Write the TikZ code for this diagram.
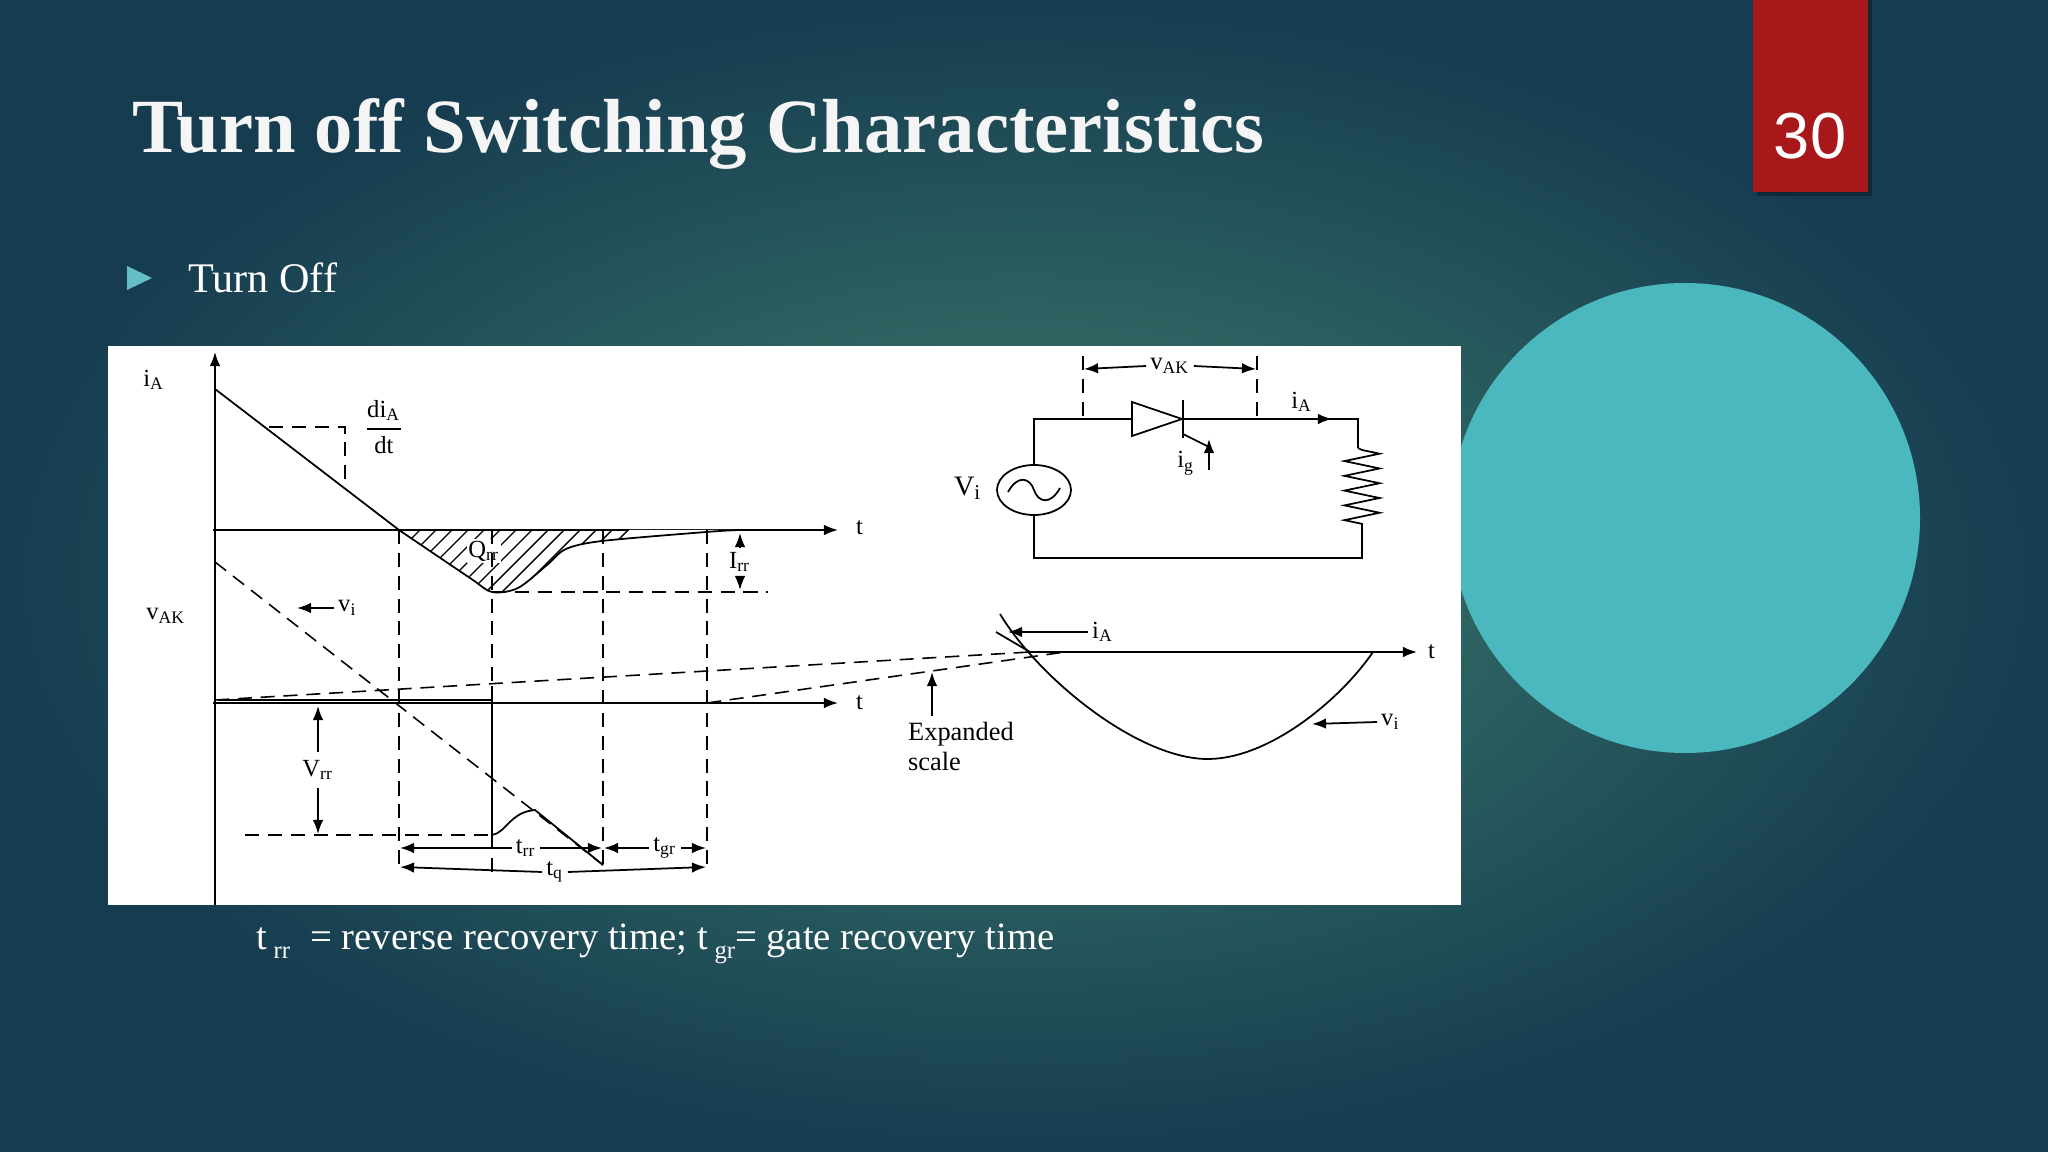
\documentclass[tikz,border=0pt]{standalone}
\usepackage{fontspec}
\setmainfont{Liberation Serif}
\newfontfamily\sansf{Liberation Sans}
\usetikzlibrary{arrows.meta,decorations.pathmorphing,shadows}
\definecolor{bgin}{RGB}{62,128,110}
\definecolor{bgout}{RGB}{22,60,80}
\definecolor{redbox}{RGB}{168,24,26}
\definecolor{circ}{RGB}{75,184,192}
\definecolor{tri}{RGB}{100,190,200}
\tikzset{
 lab/.style={inner sep=1pt,font=\fontsize{7}{8}\selectfont},
 ln/.style={line width=0.5pt,black},
 dsh/.style={line width=0.45pt,black,dash pattern=on 4pt off 2.5pt},
 arr/.style={ln,-{Latex[length=4pt,width=3pt]}},
}
\begin{document}
\begin{tikzpicture}[x=0.01cm,y=-0.01cm]
\useasboundingbox (0,0) rectangle (2048,1152);
\shade[inner color=bgin,outer color=bgout] (0,0) rectangle (2048,1152);
% red box
\fill[black,opacity=0.3] (1757,0) rectangle (1872,196);
\fill[redbox] (1753,0) rectangle (1868,192);
\node[text=white,font=\sansf\fontsize{18.5}{20}\selectfont] (num) at (1810,136) {30};
% title
\node[anchor=west,text=white!92!gray,font=\bfseries\fontsize{21.8}{25}\selectfont] (title) at (120,134) {Turn off Switching Characteristics};
\fill[tri] (127,266) -- (152,278) -- (127,290) -- cycle;
\node[anchor=west,text=white,font=\fontsize{12}{14}\selectfont] (bul) at (176,278) {Turn Off};
% circle
\fill[circ] (1685,518) circle (235);
% panel
\fill[white] (108,346) rectangle (1461,905);
% caption
\node[anchor=west,text=white,font=\fontsize{11}{13}\selectfont] (cap) at (244,944) {t\,\raisebox{-0.5ex}{\fontsize{7}{8}\selectfont rr}\; = reverse recovery time; t\,\raisebox{-0.5ex}{\fontsize{7}{8}\selectfont gr}= gate recovery time};
% ---- left graph ----
\draw[arr] (215,905) -- (215,352);
\draw[arr] (213,530) -- (838,530);
\node[lab,anchor=west] (t1) at (852,528) {t};
\draw[arr] (213,703) -- (838,703);
\node[lab,anchor=west] (t2) at (852,703) {t};
\node[lab] (ia) at (154,380) {i\textsubscript{A}};
\node[lab] (vak) at (166,616) {v\textsubscript{AK}};
% iA line
\draw[ln] (215,389) -- (399,530);
\draw[dsh] (269,427) -- (345,427) -- (345,487);
\node[lab] (didt) at (384,427) {$\displaystyle\frac{\mathrm{di}_{\mathrm{A}}}{\mathrm{dt}}$};
% recovery curve and hatch
\begin{scope}
\clip plot[smooth] coordinates {(399,530)(470,578)(492,592)(518,588)(547,565)(566,549)(602,541)(706,532)(739,530)} -- cycle;
\foreach \i in {0,...,20} \draw[line width=0.4pt] (330+\i*16,620) -- ++(95,-95);
\fill[white] (629,520) rectangle (760,600);
\end{scope}
\draw[ln] plot[smooth] coordinates {(399,530)(470,578)(492,592)(518,588)(547,565)(566,549)(602,541)(706,532)(739,530)};
\node[lab,fill=white,inner sep=0.5pt] (qrr) at (484,551) {Q\textsubscript{rr}};
% dashed verticals
\draw[dsh] (399,530) -- (399,872);
\draw[dsh] (492,530) -- (492,686);
\draw[ln] (492,686) -- (492,835);
\draw[dsh] (492,835) -- (492,872);
\draw[dsh] (603,530) -- (603,872);
\draw[dsh] (707,530) -- (707,870);
% Irr
\draw[dsh] (492,592) -- (768,592);
\coordinate (irt) at (740,533);
\coordinate (irb) at (740,590);
\node[lab] (irr) at (740,562) {I\textsubscript{rr}};
\draw[arr] (irr.north) -- (irt);
\draw[arr] (irr.south) -- (irb);
% vi dashed line
\draw[dsh] (215,562) -- (603,865);
\node[lab,anchor=west] (vi1) at (334,608) {v\textsubscript{i}};
\draw[arr] (vi1.west) -- (297,608);
% vAK solid
\draw[ln] (218,700) -- (492,700);
\draw[ln] (492,835) .. controls (506,833) and (510,812) .. (535,810) -- (603,865);
% Vrr
\draw[dsh] (245,835) -- (492,835);
\node[lab] (vrr) at (318,770) {V\textsubscript{rr}};
\coordinate (vrt) at (318,706);
\coordinate (vrb) at (318,834);
\draw[arr] (318,752) -- (vrt);
\draw[arr] (318,788) -- (vrb);
% time arrows
\node[lab,fill=white] (trr) at (526,848) {t\textsubscript{rr}};
\node[lab,fill=white] (tgr) at (665,848) {t\textsubscript{gr}};
\node[lab,fill=white] (tq) at (555,872) {t\textsubscript{q}};
\draw[arr] (trr.west) -- (400,848);
\draw[arr] (trr.east) -- (602,848);
\draw[arr] (tgr.west) -- (604,848);
\draw[arr] (tgr.east) -- (706,848);
\draw[arr] (tq.west) -- (400,867);
\draw[arr] (tq.east) -- (706,867);
% dashed convergent lines
\draw[dsh] (215,700) -- (1030,652);
\draw[dsh] (707,703) -- (1065,652);
% ---- right lower graph ----
\draw[arr] (1028,652) -- (1417,652);
\node[lab,anchor=west] (t3) at (1424,652) {t};
\draw[ln] (1000,614) .. controls (1040,680) and (1140,760) .. (1209,759) .. controls (1270,758) and (1340,700) .. (1373,652);
\draw[ln] (996,632) -- (1030,652);
\node[lab,anchor=west] (ia2) at (1088,632) {i\textsubscript{A}};
\draw[arr] (ia2.west) -- (1008,632);
\node[lab,anchor=west] (vi2) at (1377,722) {v\textsubscript{i}};
\draw[arr] (vi2.west) -- (1312,724);
\node[lab,anchor=north west,align=left,font=\fontsize{7.5}{8.5}\selectfont] (exp) at (904,718) {Expanded\\scale};
\draw[arr] (932,716) -- (932,672);
% ---- circuit ----
\draw[dsh] (1083,356) -- (1083,419);
\draw[dsh] (1257,356) -- (1257,419);
\node[lab] (vak2) at (1170,366) {v\textsubscript{AK}};
\draw[arr] (vak2.west) -- (1084,369);
\draw[arr] (vak2.east) -- (1256,369);
\draw[ln] (1034,465) -- (1034,419) -- (1132,419);
\draw[ln] (1132,402) -- (1182,419) -- (1132,436) -- cycle;
\draw[ln] (1183,400) -- (1183,438);
\draw[ln] (1183,419) -- (1358,419) -- (1358,448);
\draw[arr] (1300,419) -- (1332,419);
\node[lab] (ia3) at (1302,402) {i\textsubscript{A}};
\draw[ln] (1183,434) -- (1209,447);
\draw[arr] (1209,470) -- (1209,439);
\node[lab] (ig) at (1186,463) {i\textsubscript{g}};
\draw[ln,decorate,decoration={zigzag,segment length=4.2pt,amplitude=5pt}] (1362,450) -- (1362,524);
\draw[ln] (1358,448) -- (1362,450);
\draw[ln] (1362,524) -- (1362,558) -- (1034,558) -- (1034,514);
\draw[ln] (1034,490) ellipse (37 and 25);
\draw[ln] (1008,492) .. controls (1018,474) and (1030,478) .. (1034,490) .. controls (1038,502) and (1050,506) .. (1060,488);
\node[lab,font=\fontsize{8}{9}\selectfont] (vi3) at (968,488) {V\textsubscript{i}};
\end{tikzpicture}
\end{document}
